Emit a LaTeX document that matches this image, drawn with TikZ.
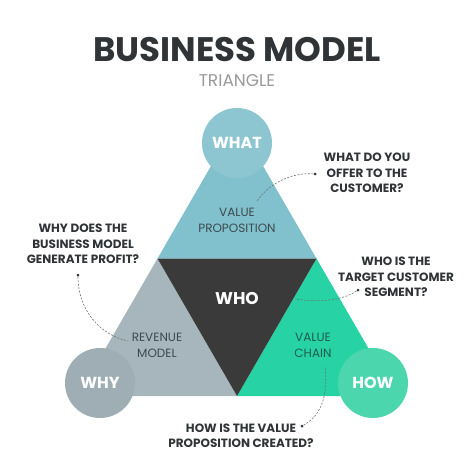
\documentclass[tikz,border=0pt]{standalone}
\usepackage{fontspec}
\setmainfont{Poppins}

\definecolor{textdark}{HTML}{303437}
\definecolor{subgray}{HTML}{9A9A9A}
\definecolor{labelgray}{HTML}{3D4A4F}
\definecolor{chaintext}{HTML}{1E5E4E}
\definecolor{whatfill}{HTML}{80C1CD}
\definecolor{whatcirc}{HTML}{8DC6D0}
\definecolor{whyfill}{HTML}{A6B6BC}
\definecolor{whycirc}{HTML}{9EAEB4}
\definecolor{howfill}{HTML}{27D3A5}
\definecolor{howcirc}{HTML}{4CD6AE}
\definecolor{whofill}{HTML}{3A3A3A}

\begin{document}
\begin{tikzpicture}[
    x=1pt,
    y=-1pt,
    corner/.style={
        circle,
        minimum size=70pt,
        inner sep=0pt,
        text=white,
        font=\fontsize{16}{16}\selectfont\bfseries
    },
    area/.style={
        align=center,
        text=labelgray,
        font=\fontsize{12}{16}\selectfont
    },
    question/.style={
        align=center,
        text=textdark,
        font=\fontsize{12}{15.5}\selectfont\bfseries
    },
    qdot/.style={
        circle,
        fill=textdark,
        inner sep=0pt,
        minimum size=3pt
    },
    link/.style={
        draw=textdark!70,
        line width=0.6pt,
        dash pattern=on 2pt off 1.5pt
    }
]
\useasboundingbox (0,0) rectangle (474,474);

% Title
\node[inner sep=0pt, text=textdark, font=\fontsize{34}{34}\selectfont\bfseries] (title) at (237,50) {BUSINESS MODEL};
\node[inner sep=0pt, text=subgray, font=\fontsize{17}{17}\selectfont] (subtitle) at (237,81) {TRIANGLE};

% Triangle corners and edge midpoints
\coordinate (apex) at (237,121);
\coordinate (bl) at (78,396);
\coordinate (br) at (396,396);
\coordinate (ml) at (157.5,258.5);
\coordinate (mr) at (316.5,258.5);
\coordinate (mb) at (237,396);

% Triangle parts
\fill[whatfill] (apex) -- (ml) -- (mr) -- cycle;
\fill[whyfill] (ml) -- (bl) -- (mb) -- cycle;
\fill[howfill] (mr) -- (mb) -- (br) -- cycle;
\fill[whofill] (ml) -- (mr) -- (mb) -- cycle;

% Corner circles
\node[corner, fill=whatcirc] (what) at (237,143) {WHAT};
\node[corner, fill=whycirc] (why) at (100,383) {WHY};
\node[corner, fill=howcirc] (how) at (373,383) {HOW};

% Part labels
\node[area] (valueprop) at (237,220) {VALUE\\PROPOSITION};
\node[area] (revenue) at (157,345) {REVENUE\\MODEL};
\node[area, text=chaintext] (chain) at (313,345) {VALUE\\CHAIN};
\node[text=white, font=\fontsize{17}{17}\selectfont\bfseries] (who) at (237,299) {WHO};

% Questions
\node[question] (qwhat) at (367,173) {WHAT DO YOU\\OFFER TO THE\\CUSTOMER?};
\node[question] (qwho) at (396,277) {WHO IS THE\\TARGET CUSTOMER\\SEGMENT?};
\node[question] (qwhy) at (83,244) {WHY DOES THE\\BUSINESS MODEL\\GENERATE PROFIT?};
\node[question] (qhow) at (241,436) {HOW IS THE VALUE\\PROPOSITION CREATED?};

% Dotted links
\node[qdot] (dwhat) at (315,174) {};
\coordinate (ewhat) at (257,201);
\draw[link] (dwhat) .. controls (290,172) and (268,185) .. (ewhat);

\node[qdot] (dwho) at (358,290) {};
\coordinate (ewho) at (295,299);
\draw[link] (dwho) .. controls (340,302) and (315,302) .. (ewho);

\node[qdot] (dwhy) at (78,275) {};
\coordinate (ewhy) at (128,341);
\draw[link] (dwhy) .. controls (78,310) and (100,335) .. (ewhy);

\node[qdot] (dhow) at (302,426) {};
\coordinate (ehow) at (325,366);
\draw[link] (dhow) .. controls (322,415) and (328,395) .. (ehow);

\end{tikzpicture}
\end{document}
